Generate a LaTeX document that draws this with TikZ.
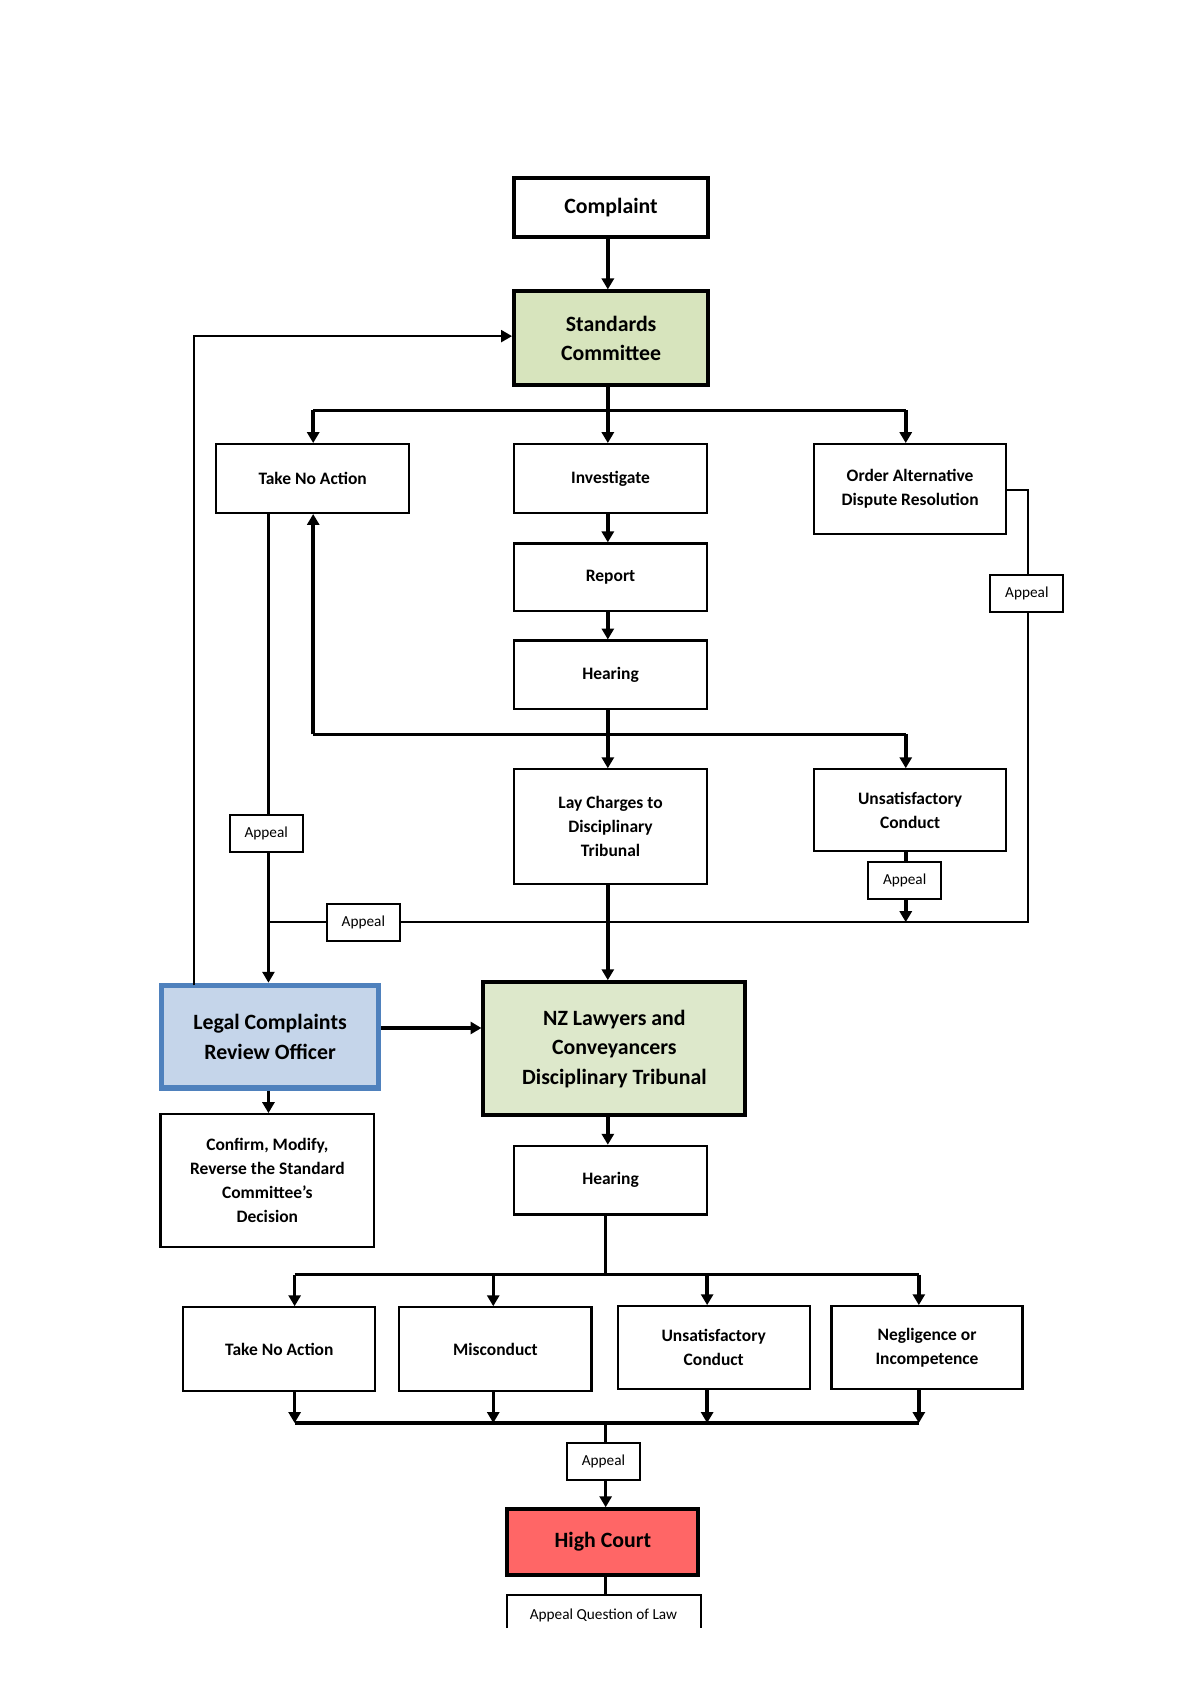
\documentclass[tikz,border=0pt]{standalone}
\usepackage{fontspec}
\setmainfont{Carlito}
\usetikzlibrary{arrows.meta,calc}
\begin{document}
\begin{tikzpicture}[x=1pt,y=-1pt,
 ln/.style={line width=3.2pt},
 arr/.style={line width=3.2pt,-{Triangle[length=10pt,width=11pt]}},
 thin arr/.style={line width=1.8pt,-{Triangle[length=10pt,width=11pt]}},
 bx/.style={draw,line width=2pt,fill=white,align=center,inner sep=0pt,font=\bfseries\fontsize{16}{22}\selectfont},
 big/.style={bx,line width=3.6pt,font=\bfseries\fontsize{20}{27}\selectfont},
 lab/.style={draw,line width=1.8pt,fill=white,inner sep=0pt,minimum width=67pt,minimum height=34pt,font=\fontsize{14}{16}\selectfont}]
\useasboundingbox (0,0) rectangle (1100,1556);
\fill[white] (0,0) rectangle (1100,1556);
\newcommand{\bxn}[7]{\node[#6,minimum width={#4-#2},minimum height={#5-#3}] (#1) at ({(#2+#4)/2},{(#3+#5)/2}) {#7};}
\coordinate (cM) at (557,0);
\coordinate (cL) at (246,0);
\coordinate (cT) at (287,0);
\coordinate (cR) at (830,0);
\coordinate (cB) at (555,0);
% boxes
\bxn{cmp}{471}{163}{649}{217}{big}{Complaint}
\bxn{sc}{471}{267}{649}{353}{big,fill={rgb,255:red,215;green,228;blue,189}}{Standards\\Committee}
\bxn{tna}{198}{407}{375}{470}{bx}{Take No Action}
\bxn{inv}{471}{407}{648}{470}{bx}{Investigate}
\bxn{adr}{746}{407}{922}{489}{bx}{Order Alternative\\Dispute Resolution}
\bxn{rep}{471}{498}{648}{560}{bx}{Report}
\bxn{hear}{471}{587}{648}{650}{bx}{Hearing}
\bxn{lay}{471}{705}{648}{810}{bx}{Lay Charges to\\Disciplinary\\Tribunal}
\bxn{uc}{746}{705}{922}{780}{bx}{Unsatisfactory\\Conduct}
\bxn{lcro}{148}{903}{347}{997}{big,draw={rgb,255:red,79;green,129;blue,189},line width=5pt,fill={rgb,255:red,197;green,213;blue,234}}{Legal Complaints\\Review Officer}
\bxn{nz}{443}{900}{683}{1022}{big,fill={rgb,255:red,221;green,232;blue,203}}{NZ Lawyers and\\Conveyancers\\Disciplinary Tribunal}
\bxn{conf}{147}{1021}{343}{1143}{bx}{Confirm, Modify,\\Reverse the Standard\\Committee's\\Decision}
\bxn{hear2}{471}{1050}{648}{1113}{bx}{Hearing}
\bxn{b1}{168}{1198}{344}{1275}{bx}{Take No Action}
\bxn{b2}{366}{1198}{542}{1275}{bx}{Misconduct}
\bxn{b3}{566}{1197}{742}{1273}{bx}{Unsatisfactory\\Conduct}
\bxn{b4}{762}{1197}{937}{1273}{bx}{Negligence or\\Incompetence}
\bxn{hc}{465}{1383}{640}{1443}{big,fill={rgb,255:red,255;green,102;blue,102}}{High Court}
% connectors
\draw[arr] (cmp.south -| cM) -- (sc.north -| cM);
\draw[ln] (sc.south -| cM) -- (557,376) coordinate (j1);
\draw[ln] (287,376) -- (830,376);
\draw[arr] (287,376) -- (tna.north -| cT);
\draw[arr] (j1) -- (inv.north -| cM);
\draw[arr] (830,376) -- (adr.north -| cR);
\draw[arr] (inv.south -| cM) -- (rep.north -| cM);
\draw[arr] (rep.south -| cM) -- (hear.north -| cM);
\draw[ln] (hear.south -| cM) -- (557,673) coordinate (j2);
\draw[ln] (287,673) -- (830,673);
\draw[arr] (287,673) -- (tna.south -| cT);
\draw[arr] (j2) -- (lay.north -| cM);
\draw[arr] (830,673) -- (uc.north -| cR);
\draw[arr] (tna.south -| cL) -- (lcro.north -| cL);
\draw[thin arr] (178,903) -- (178,308) -- (sc.west |- 0,308);
\draw[line width=1.8pt] (adr.east |- 0,449) -- (942,449) -- (942,845) -- (246,845);
\draw[arr] (uc.south -| cR) -- (830,845);
\draw[arr] (lay.south -| cM) -- (nz.north -| cM);
\draw[arr] (lcro.east |- 0,942) -- (nz.west |- 0,942);
\draw[arr] (lcro.south -| cL) -- (conf.north -| cL);
\draw[arr] (nz.south -| cM) -- (hear2.north -| cM);
\draw[ln] (hear2.south -| cB) -- (555,1168);
\draw[ln] (270,1168) -- (842,1168);
\foreach \x/\b in {270/b1,452/b2,648/b3,842/b4}{
  \coordinate (cx) at (\x,0);
  \draw[arr] (\x,1168) -- (\b.north -| cx);
  \draw[arr] (\b.south -| cx) -- (\x,1304);}
\draw[ln] (270,1304) -- (842,1304);
\node[lab] (ap5) at (553,1339) {Appeal};
\draw[ln] (555,1304) -- (ap5.north -| cB);
\draw[arr] (ap5.south -| cB) -- (hc.north -| cB);
\draw[ln] (hc.south -| cB) -- (555,1462);
\draw[line width=1.8pt] (465,1492) -- (465,1462) -- (642,1462) -- (642,1492);
\node[font=\fontsize{14}{16}\selectfont] (aql) at (553,1480) {Appeal Question of Law};
% appeal labels
\node[lab] (ap1) at (941,544) {Appeal};
\node[lab] (ap2) at (244,764) {Appeal};
\node[lab] (ap3) at (333,845) {Appeal};
\node[lab] (ap4) at (829,807) {Appeal};
\end{tikzpicture}
\end{document}
